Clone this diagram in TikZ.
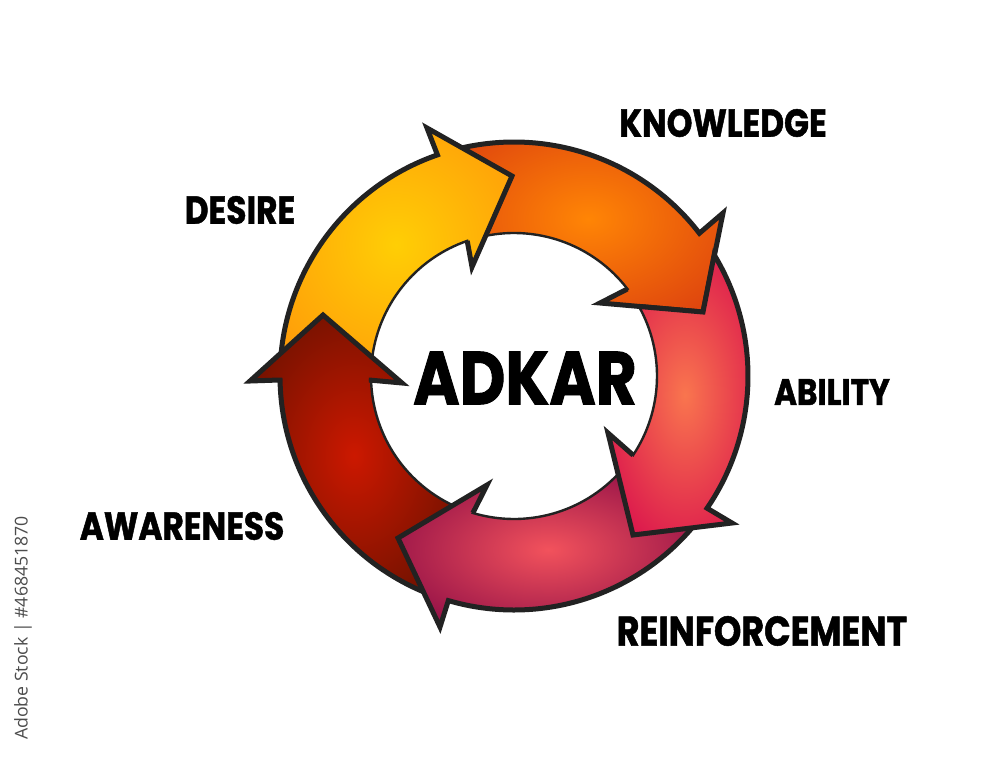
\documentclass[tikz,border=0pt]{standalone}
\usepackage{fontspec}
\usetikzlibrary{calc}
\newfontfamily\markfont[FakeStretch=0.84,BoldFeatures={FakeBold=1.2}]{Poppins}
\newfontfamily\stockfont{Open Sans}
\definecolor{ink}{HTML}{222222}
\definecolor{knowmid}{HTML}{FF8505}
\definecolor{knowrim}{HTML}{D93A10}
\definecolor{desiremid}{HTML}{FFCE05}
\definecolor{desirerim}{HTML}{FF960A}
\definecolor{awaremid}{HTML}{CC1800}
\definecolor{awarerim}{HTML}{581000}
\definecolor{reinfmid}{HTML}{F2525C}
\definecolor{reinfrim}{HTML}{7C0042}
\definecolor{abilmid}{HTML}{F9754E}
\definecolor{abilrim}{HTML}{D4004C}
\pgfdeclareradialshading[ringin,ringout]{ringglow}{\pgfpointorigin}{color(0bp)=(ringin); color(37bp)=(ringout); color(50bp)=(ringout)}
\tikzset{
  thinedge/.style={draw=ink,line width=2.4pt,shading=ringglow},
  heavyedge/.style={draw=ink,line width=5pt,miter limit=12},
  caption/.style={font=\markfont\bfseries\fontsize{39}{39}\selectfont,text=black,inner sep=0pt},
}
% inner colour, outer colour, outer arc from/to, head, inner arc from/to, tail
\newcommand{\ringarrow}[8]{{
  \colorlet{ringin}{#1}\colorlet{ringout}{#2}
  \shadedraw[thinedge] ($(ringc)+(#3:234)$) arc[start angle=#3,end angle=#4,radius=234pt] -- #5 -- ($(ringc)+(#6:143)$) arc[start angle=#6,end angle=#7,radius=143pt] #8 -- cycle;
  \draw[heavyedge] ($(ringc)+(#7:143)$) #8 -- ($(ringc)+(#3:234)$) arc[start angle=#3,end angle=#4,radius=234pt] -- #5 -- ($(ringc)+(#6:143)$);
}}
\begin{document}
\begin{tikzpicture}[x=1pt,y=1pt,yscale=-1]
  \path[fill=white,use as bounding box] (0,0) rectangle (1000,756);
  \coordinate (ringc) at (514,376);

  \ringarrow{knowmid}{knowrim}{255}{322.4}{(723,213) -- (703,312) -- (600,303)}{322.5}{256}{}
  \ringarrow{desiremid}{desirerim}{184}{250.9}{(427,128) -- (512,176) -- (472,267)}{250.9}{186}{}
  \ringarrow{awaremid}{awarerim}{110}{179}{(279,380) -- (250,381) -- (323,315) -- (402,383) -- (369,380)}{178.4}{113}{}
  \ringarrow{reinfmid}{reinfrim}{38}{106.3}{(440,627) -- (398,538) -- (487,485)}{106.7}{42}{}
  \ringarrow{abilmid}{abilrim}{328.8}{394.4}{(732,523) -- (633,535) -- (608,433)}{393.6}{330.9}{-- (703,312)}

  \node[caption] (knowledge) at (723,123) {KNOWLEDGE};
  \node[caption] (desire)    at (240,210) {DESIRE};
  \node[caption,font=\markfont\bfseries\fontsize{37}{37}\selectfont] (ability) at (832,392) {ABILITY};
  \node[caption] (awareness) at (182,526) {AWARENESS};
  \node[caption,font=\markfont\bfseries\fontsize{41.5}{41.5}\selectfont] (reinforce) at (762,631) {REINFORCEMENT};
  \node[caption,font=\markfont\bfseries\fontsize{75}{75}\selectfont] (adkar) at (525,378) {ADKAR};
  \node[rotate=90,inner sep=0pt,text=black!70,font=\stockfont\fontsize{17.7}{17.7}\selectfont] (stockid) at (23,628) {Adobe Stock | \#468451870};
\end{tikzpicture}
\end{document}
